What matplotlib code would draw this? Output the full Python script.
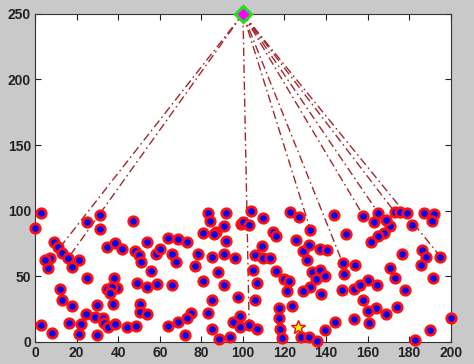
import matplotlib
matplotlib.use("Agg")
import matplotlib.pyplot as plt
import numpy as np

plt.rcParams["font.family"] = ["Liberation Sans", "DejaVu Sans"]
plt.rcParams["font.weight"] = "bold"

# sensor nodes
pts = [
    (3, 98), (0, 87), (25, 91), (31, 97), (31, 86), (47, 92),
    (9, 76), (11, 72), (13, 68), (7, 64), (6, 56), (5, 62), (16, 64), (21, 62), (18, 57),
    (25, 49), (12, 40), (13, 32), (18, 27), (3, 13), (8, 7), (16.5, 14), (22, 13.5), (21, 6),
    (24.5, 21), (30, 28), (29, 19), (32.5, 18), (30, 5), (33, 14), (35, 11), (38.5, 13.5),
    (44, 11), (48.5, 12),
    (37.5, 29), (38, 49), (39.6, 41), (34.5, 40), (37, 42), (36, 37),
    (34.5, 72), (38.5, 75), (42, 71), (48, 69), (50, 66),
    (54, 76), (51, 61), (56, 54), (49, 45), (54, 42), (58.5, 44), (58, 67), (60, 71),
    (50.5, 29), (50.5, 23), (54, 21),
    (64, 79), (66, 67), (69, 78), (68, 61), (73, 76), (66, 43), (64, 12), (69, 15), (75, 22),
    (73, 18), (72, 5),
    (77, 58), (78.5, 67), (81, 83), (83, 98), (84, 92), (87, 84), (86, 82), (85, 65), (88, 53),
    (81, 46), (85, 32), (83, 22), (85, 10), (88.5, 2.5),
    (92, 98.5), (91, 88), (92, 77), (91, 67), (91, 43), (96, 64), (94, 4), (95, 15), (97.5, 34),
    (99, 90),
    (104, 100), (100, 91), (103, 89), (109.5, 94), (122.5, 99), (127, 95), (144, 97),
    (114.5, 84), (116, 81), (125.5, 77.5), (132.5, 85), (149.5, 82),
    (109, 73), (106, 66), (109.5, 64), (113, 64), (129, 69), (132, 74), (137, 70.5), (140.5, 70),
    (131, 62), (148, 60), (148.5, 52),
    (105, 55), (107, 45), (106, 32), (116, 54), (120, 48), (122, 46), (121, 39), (133, 53),
    (137, 55), (139.5, 50), (135, 48), (132.5, 42), (129, 38.5), (137.5, 36.5), (147.5, 39.5),
    (123.5, 27), (117.5, 26), (117.5, 18), (118, 10), (119, 3), (98.5, 20), (98.5, 11),
    (103, 13), (107, 10), (128, 4), (132, 4), (135.5, 0.5), (139.5, 9), (144.5, 15),
    (158, 96), (165, 98.5), (173, 99), (175.5, 99), (179, 98), (187, 98), (192, 97.5),
    (191, 92), (163, 91), (171, 88), (169, 93), (181.5, 89), (168, 83), (165, 80.5), (161.5, 76),
    (176.5, 67), (186, 70), (188, 65), (185.5, 58.5), (195, 65), (191.5, 48.5), (154, 58.5),
    (171, 56), (173, 49), (160, 47), (164.5, 43), (153.5, 40), (156.5, 43), (178, 39.5),
    (158, 32), (164, 26), (160, 23.5), (169, 21), (174, 26.5), (153.5, 17.5), (160.5, 14.5),
    (190, 9), (183, 1), (200, 18),
]
node_x = [p[0] for p in pts]
node_y = [p[1] for p in pts]

# sink at top, event (star) near the bottom
sink_x, sink_y = 100, 250
star_x, star_y = 126.5, 11

# nodes linked to the sink
link_x = [11, 16, 103, 132.5, 148, 158, 165, 173, 195]
link_y = [70, 64, 13, 85, 60, 96, 98.5, 99, 65]

fig = plt.figure(figsize=(4.74, 3.64), dpi=100)
fig.patch.set_facecolor("#c9c9c9")
ax = fig.add_axes([0.074, 0.061, 0.877, 0.901])

for lx, ly in zip(link_x, link_y):
    ax.plot([sink_x, lx], [sink_y, ly], color="#a3262c", lw=1.0,
            linestyle=(0, (6, 2.5, 1.2, 2.5)), zorder=2)

ax.plot(node_x, node_y, "o", ms=6.8, mfc="#0000ff", mec="#ff1010", mew=2.0,
        clip_on=False, zorder=3)
ax.plot(star_x, star_y, "*", ms=10, mfc="#ffff00", mec="#ff0000", mew=1.0,
        zorder=4)
ax.plot(sink_x, sink_y, "D", ms=8, mfc="#ff00ff", mec="#22dd22", mew=2.2,
        clip_on=False, zorder=5)

ax.set_xlim(0, 200)
ax.set_ylim(0, 250)
ax.set_xticks(np.arange(0, 201, 20))
ax.set_yticks(np.arange(0, 251, 50))
ax.tick_params(direction="in", top=True, right=True, length=4, labelsize=10,
               colors="#222222", pad=3)
for s in ax.spines.values():
    s.set_color("#333333")
    s.set_linewidth(0.8)

fig.savefig("out.png", dpi=100, facecolor=fig.get_facecolor())
